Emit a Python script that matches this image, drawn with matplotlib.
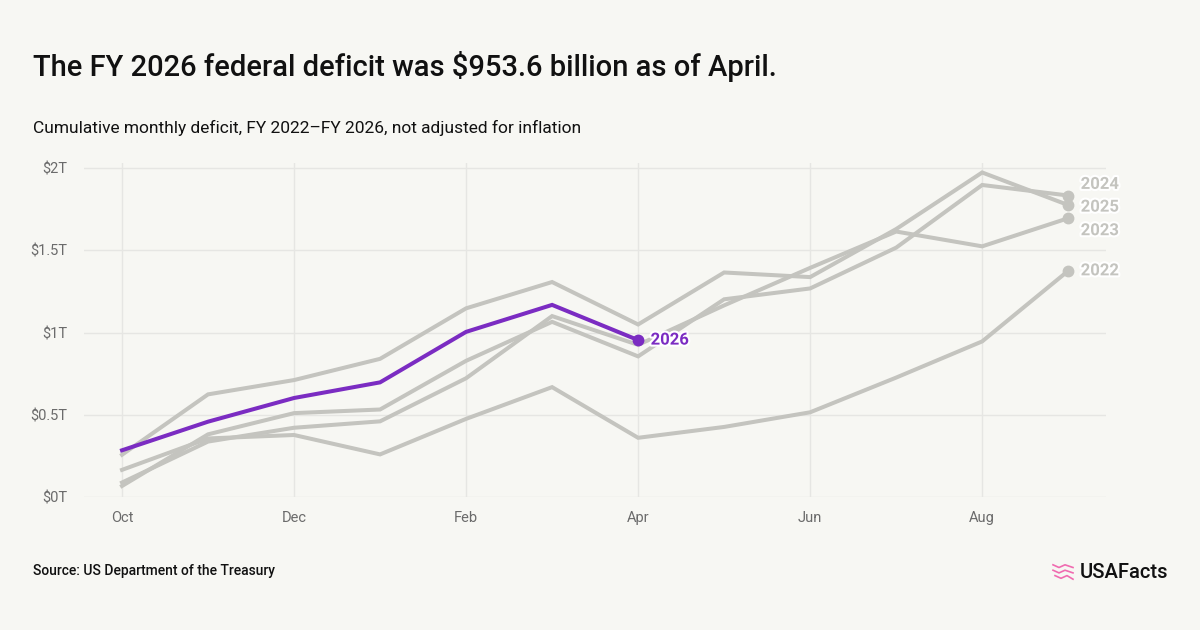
import matplotlib.pyplot as plt
import matplotlib.patheffects as pe

months = ["Oct", "Nov", "Dec", "Jan", "Feb", "Mar", "Apr", "May", "Jun", "Jul", "Aug", "Sep"]
years = ["2022", "2023", "2024", "2025"]

# cumulative deficit, trillions of dollars
fy2022 = [0.165, 0.356, 0.377, 0.259, 0.475, 0.668, 0.360, 0.426, 0.515, 0.726, 0.946, 1.375]
fy2023 = [0.088, 0.337, 0.421, 0.460, 0.722, 1.100, 0.925, 1.165, 1.393, 1.614, 1.524, 1.695]
fy2024 = [0.067, 0.381, 0.510, 0.532, 0.828, 1.065, 0.855, 1.202, 1.268, 1.516, 1.897, 1.833]
fy2025 = [0.257, 0.624, 0.711, 0.840, 1.147, 1.307, 1.049, 1.365, 1.337, 1.629, 1.973, 1.775]
fy2026 = [0.284, 0.458, 0.602, 0.697, 1.004, 1.168, 0.954]

y_ticks = [0, 0.5, 1, 1.5, 2]
y_labels = ["$0T", "$0.5T", "$1T", "$1.5T", "$2T"]

BG = "#f7f7f3"
GRAY = "#c4c4bf"
PURPLE = "#7b2cc2"
plt.rcParams['font.family'] = ['Roboto', 'DejaVu Sans']

fig = plt.figure(figsize=(12, 6.3), dpi=100, facecolor=BG)
ax = fig.add_axes([0.07, 0.2111, 0.8517, 0.530], facecolor=BG)

halo = [pe.withStroke(linewidth=3, foreground="white")]
label_dy = {"2022": 0, "2023": -9, "2024": 8, "2025": -1.5}

series = {"2022": fy2022, "2023": fy2023, "2024": fy2024, "2025": fy2025}
for y in years:
    vals = series[y]
    xs = list(range(len(vals)))
    ax.plot(xs, vals, color=GRAY, lw=2.9, solid_joinstyle="miter", zorder=3)
    ax.plot(xs[-1], vals[-1], "o", color=GRAY, ms=7.5, zorder=4)
    ax.annotate(y, (xs[-1], vals[-1]), xytext=(9, label_dy[y]), textcoords="offset points",
                va="center", ha="left", fontsize=12, fontweight="bold", color=GRAY,
                path_effects=halo, zorder=5)

xs = list(range(len(fy2026)))
ax.plot(xs, fy2026, color=PURPLE, lw=2.9, solid_joinstyle="miter", zorder=6)
ax.plot(xs[-1], fy2026[-1], "o", color=PURPLE, ms=7.5, zorder=7)
ax.annotate("2026", (xs[-1], fy2026[-1]), xytext=(9, 0), textcoords="offset points",
            va="center", ha="left", fontsize=12, fontweight="bold", color=PURPLE,
            path_effects=halo, zorder=8)

ax.set_xlim(-0.442, 11.44)
ax.set_ylim(0, 2.03)
ax.set_xticks(range(0, 12, 2))
ax.set_xticklabels(months[::2])
ax.set_yticks(y_ticks)
ax.set_yticklabels(y_labels)
ax.tick_params(length=0, labelsize=10.5, labelcolor="#6b6b6b")
ax.tick_params(axis="y", pad=12)
ax.tick_params(axis="x", pad=10)
ax.grid(True, color="#e6e6e3", lw=1)
ax.set_axisbelow(True)
for s in ax.spines.values():
    s.set_visible(False)

fig.text(33 / 1200, 1 - 67 / 630, "The FY 2026 federal deficit was $953.6 billion as of April.",
         fontsize=21, fontweight="medium", color="#111111", va="center", ha="left")
fig.text(33 / 1200, 1 - 128 / 630, "Cumulative monthly deficit, FY 2022\u2013FY 2026, not adjusted for inflation",
         fontsize=12.5, color="#111111", va="center", ha="left")
fig.text(33 / 1200, 1 - 571 / 630, "Source: US Department of the Treasury",
         fontsize=10, fontweight="medium", color="#111111", va="center", ha="left")
fig.text(1168 / 1200, 1 - 572 / 630, "USAFacts", fontsize=14.5, fontweight="medium",
         color="#111111", va="center", ha="right")

# small pink flag icon for the logo
icon = fig.add_axes([1052 / 1200, 1 - 581 / 630, 22 / 1200, 18 / 630])
icon.axis("off")
icon.plot([0, 0.3, 0.6, 1.0], [0.9, 0.75, 0.9, 0.75], color="#f06bb0", lw=1.2)
icon.plot([0, 0.3, 0.6, 1.0], [0.6, 0.45, 0.6, 0.45], color="#f06bb0", lw=1.2)
icon.plot([0.1, 0.4, 0.7, 1.0], [0.3, 0.15, 0.3, 0.1], color="#f06bb0", lw=1.2)
icon.set_xlim(-0.05, 1.05)
icon.set_ylim(0, 1)

fig.savefig("out.png", dpi=100, facecolor=BG)
